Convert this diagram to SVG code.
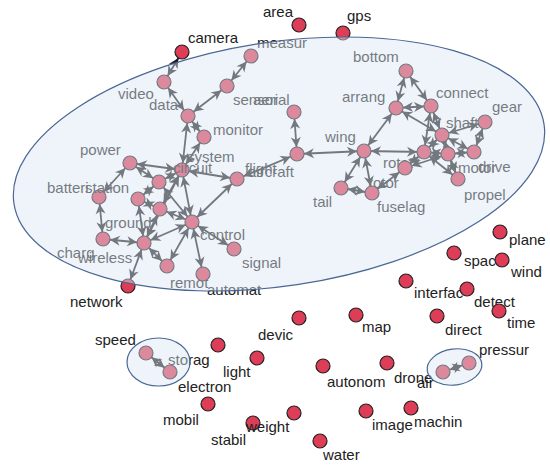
<svg xmlns="http://www.w3.org/2000/svg" width="550" height="469" viewBox="0 0 550 469">
<style>
.e{stroke:#1e1e1e;stroke-width:1.8;fill:none;marker-start:url(#ar);marker-end:url(#ar)}
.n{fill:#de3d57;stroke:#222;stroke-width:1.2}
.t{font-family:"Liberation Sans",Arial,sans-serif;font-size:15px;fill:#222}
.g{fill:#dce6f3;fill-opacity:0.45;stroke:#4a6794;stroke-width:1.2}
</style>
<defs>
<marker id="ar" viewBox="-20 -10 20 20" refX="0" refY="0" markerWidth="20" markerHeight="20" markerUnits="userSpaceOnUse" orient="auto-start-reverse" overflow="visible">
<path d="M-7,0 L-17,-5 L-14,0 L-17,5 Z" fill="#1e1e1e"/>
</marker>
</defs>
<rect width="550" height="469" fill="#fff"/>
<g id="edges">
<line class="e" x1="182" y1="52" x2="164" y2="82"/>
<line class="e" x1="164" y1="82" x2="188" y2="116"/>
<line class="e" x1="188" y1="116" x2="227" y2="86"/>
<line class="e" x1="227" y1="86" x2="251" y2="56"/>
<line class="e" x1="188" y1="116" x2="204" y2="137"/>
<line class="e" x1="188" y1="116" x2="182" y2="170"/>
<line class="e" x1="204" y1="137" x2="182" y2="170"/>
<line class="e" x1="182" y1="170" x2="237" y2="179"/>
<line class="e" x1="237" y1="179" x2="297" y2="154"/>
<line class="e" x1="294" y1="112" x2="297" y2="154"/>
<line class="e" x1="297" y1="154" x2="364" y2="151"/>
<line class="e" x1="130" y1="163" x2="182" y2="170"/>
<line class="e" x1="130" y1="163" x2="159" y2="182"/>
<line class="e" x1="99" y1="197" x2="130" y2="163"/>
<line class="e" x1="99" y1="197" x2="103" y2="239"/>
<line class="e" x1="103" y1="239" x2="144" y2="243"/>
<line class="e" x1="159" y1="182" x2="138" y2="199"/>
<line class="e" x1="159" y1="182" x2="182" y2="170"/>
<line class="e" x1="138" y1="199" x2="144" y2="243"/>
<line class="e" x1="138" y1="199" x2="160" y2="209"/>
<line class="e" x1="160" y1="209" x2="182" y2="170"/>
<line class="e" x1="160" y1="209" x2="192" y2="222"/>
<line class="e" x1="144" y1="243" x2="192" y2="222"/>
<line class="e" x1="144" y1="243" x2="160" y2="209"/>
<line class="e" x1="144" y1="243" x2="182" y2="170"/>
<line class="e" x1="182" y1="170" x2="192" y2="222"/>
<line class="e" x1="159" y1="182" x2="192" y2="222"/>
<line class="e" x1="192" y1="222" x2="167" y2="266"/>
<line class="e" x1="192" y1="222" x2="203" y2="274"/>
<line class="e" x1="192" y1="222" x2="234" y2="249"/>
<line class="e" x1="192" y1="222" x2="237" y2="179"/>
<line class="e" x1="144" y1="243" x2="167" y2="266"/>
<line class="e" x1="144" y1="243" x2="128" y2="286"/>
<line class="e" x1="364" y1="151" x2="396" y2="108"/>
<line class="e" x1="364" y1="151" x2="341" y2="188"/>
<line class="e" x1="364" y1="151" x2="372" y2="193"/>
<line class="e" x1="341" y1="188" x2="372" y2="193"/>
<line class="e" x1="364" y1="151" x2="424" y2="152"/>
<line class="e" x1="372" y1="193" x2="405" y2="168"/>
<line class="e" x1="406" y1="71" x2="396" y2="108"/>
<line class="e" x1="406" y1="71" x2="431" y2="106"/>
<line class="e" x1="396" y1="108" x2="431" y2="106"/>
<line class="e" x1="396" y1="108" x2="442" y2="135"/>
<line class="e" x1="431" y1="106" x2="442" y2="135"/>
<line class="e" x1="431" y1="106" x2="424" y2="152"/>
<line class="e" x1="485" y1="122" x2="442" y2="135"/>
<line class="e" x1="485" y1="122" x2="474" y2="152"/>
<line class="e" x1="442" y1="135" x2="424" y2="152"/>
<line class="e" x1="442" y1="135" x2="448" y2="154"/>
<line class="e" x1="442" y1="135" x2="474" y2="152"/>
<line class="e" x1="442" y1="135" x2="458" y2="179"/>
<line class="e" x1="424" y1="152" x2="448" y2="154"/>
<line class="e" x1="424" y1="152" x2="405" y2="168"/>
<line class="e" x1="448" y1="154" x2="474" y2="152"/>
<line class="e" x1="448" y1="154" x2="458" y2="179"/>
<line class="e" x1="405" y1="168" x2="448" y2="154"/>
<line class="e" x1="424" y1="152" x2="458" y2="179"/>
<line class="e" x1="146" y1="353" x2="170" y2="372"/>
<line class="e" x1="469" y1="363" x2="443" y2="372"/>
</g>
<g id="node-camera"><circle class="n" cx="182" cy="52" r="7"/><text class="t" x="188" y="43">camera</text></g>
<g id="node-area"><circle class="n" cx="299" cy="25" r="7"/><text class="t" x="263" y="17">area</text></g>
<g id="node-gps"><circle class="n" cx="343" cy="33" r="7"/><text class="t" x="347" y="21">gps</text></g>
<g id="node-video"><circle class="n" cx="164" cy="82" r="7"/><text class="t" x="118" y="99">video</text></g>
<g id="node-data"><circle class="n" cx="188" cy="116" r="7"/><text class="t" x="149" y="110">data</text></g>
<g id="node-sensor"><circle class="n" cx="227" cy="86" r="7"/><text class="t" x="233" y="105">sensor</text></g>
<g id="node-measur"><circle class="n" cx="251" cy="56" r="7"/><text class="t" x="257" y="48">measur</text></g>
<g id="node-monitor"><circle class="n" cx="204" cy="137" r="7"/><text class="t" x="213" y="135">monitor</text></g>
<g id="node-aerial"><circle class="n" cx="294" cy="112" r="7"/><text class="t" x="253" y="105">aerial</text></g>
<g id="node-aircraft"><circle class="n" cx="297" cy="154" r="7"/><text class="t" x="248" y="177">aircraft</text></g>
<g id="node-flight"><circle class="n" cx="237" cy="179" r="7"/><text class="t" x="245" y="174">flight</text></g>
<g id="node-power"><circle class="n" cx="130" cy="163" r="7"/><text class="t" x="80" y="155">power</text></g>
<g id="node-system"><circle class="n" cx="159" cy="182" r="7"/><text class="t" x="187" y="162">system</text></g>
<g id="node-circuit"><circle class="n" cx="182" cy="170" r="7"/><text class="t" x="173" y="173">circuit</text></g>
<g id="node-batteri"><circle class="n" cx="99" cy="197" r="7"/><text class="t" x="47" y="193">batteri</text></g>
<g id="node-station"><circle class="n" cx="138" cy="199" r="7"/><text class="t" x="85" y="193">station</text></g>
<g id="node-ground"><circle class="n" cx="160" cy="209" r="7"/><text class="t" x="105" y="228">ground</text></g>
<g id="node-control"><circle class="n" cx="192" cy="222" r="7"/><text class="t" x="200" y="240">control</text></g>
<g id="node-charg"><circle class="n" cx="103" cy="239" r="7"/><text class="t" x="57" y="258">charg</text></g>
<g id="node-wireless"><circle class="n" cx="144" cy="243" r="7"/><text class="t" x="78" y="263">wireless</text></g>
<g id="node-remot"><circle class="n" cx="167" cy="266" r="7"/><text class="t" x="170" y="288">remot</text></g>
<g id="node-automat"><circle class="n" cx="203" cy="274" r="7"/><text class="t" x="207" y="295">automat</text></g>
<g id="node-signal"><circle class="n" cx="234" cy="249" r="7"/><text class="t" x="242" y="268">signal</text></g>
<g id="node-network"><circle class="n" cx="128" cy="286" r="7"/><text class="t" x="70" y="307">network</text></g>
<g id="node-bottom"><circle class="n" cx="406" cy="71" r="7"/><text class="t" x="353" y="62">bottom</text></g>
<g id="node-arrang"><circle class="n" cx="396" cy="108" r="7"/><text class="t" x="342" y="102">arrang</text></g>
<g id="node-connect"><circle class="n" cx="431" cy="106" r="7"/><text class="t" x="436" y="98">connect</text></g>
<g id="node-gear"><circle class="n" cx="485" cy="122" r="7"/><text class="t" x="492" y="112">gear</text></g>
<g id="node-shaft"><circle class="n" cx="442" cy="135" r="7"/><text class="t" x="446" y="128">shaft</text></g>
<g id="node-wing"><circle class="n" cx="364" cy="151" r="7"/><text class="t" x="325" y="142">wing</text></g>
<g id="node-rotor"><circle class="n" cx="424" cy="152" r="7"/><text class="t" x="368" y="188">rotor</text></g>
<g id="node-motor"><circle class="n" cx="448" cy="154" r="7"/><text class="t" x="458" y="173">motor</text></g>
<g id="node-drive"><circle class="n" cx="474" cy="152" r="7"/><text class="t" x="478" y="172">drive</text></g>
<g id="node-propel"><circle class="n" cx="458" cy="179" r="7"/><text class="t" x="464" y="200">propel</text></g>
<g id="node-rotat"><text class="t" x="383" y="168">rotat</text><circle class="n" cx="405" cy="168" r="7"/></g>
<g id="node-tail"><circle class="n" cx="341" cy="188" r="7"/><text class="t" x="313" y="207">tail</text></g>
<g id="node-fuselag"><circle class="n" cx="372" cy="193" r="7"/><text class="t" x="377" y="212">fuselag</text></g>
<g id="node-plane"><circle class="n" cx="500" cy="232" r="7"/><text class="t" x="509" y="245">plane</text></g>
<g id="node-space"><circle class="n" cx="454" cy="253" r="7"/><text class="t" x="464" y="266">space</text></g>
<g id="node-wind"><circle class="n" cx="502" cy="260" r="7"/><text class="t" x="511" y="277">wind</text></g>
<g id="node-interfac"><circle class="n" cx="406" cy="281" r="7"/><text class="t" x="414" y="298">interfac</text></g>
<g id="node-detect"><circle class="n" cx="467" cy="289" r="7"/><text class="t" x="474" y="307">detect</text></g>
<g id="node-time"><circle class="n" cx="499" cy="311" r="7"/><text class="t" x="507" y="328">time</text></g>
<g id="node-direct"><circle class="n" cx="437" cy="316" r="7"/><text class="t" x="445" y="335">direct</text></g>
<g id="node-map"><circle class="n" cx="356" cy="315" r="7"/><text class="t" x="362" y="332">map</text></g>
<g id="node-devic"><circle class="n" cx="299" cy="318" r="7"/><text class="t" x="258" y="340">devic</text></g>
<g id="node-pressur"><circle class="n" cx="469" cy="363" r="7"/><text class="t" x="479" y="355">pressur</text></g>
<g id="node-air"><circle class="n" cx="443" cy="372" r="7"/><text class="t" x="417" y="388">air</text></g>
<g id="node-drone"><circle class="n" cx="387" cy="363" r="7"/><text class="t" x="394" y="383">drone</text></g>
<g id="node-autonom"><circle class="n" cx="323" cy="366" r="7"/><text class="t" x="327" y="387">autonom</text></g>
<g id="node-speed"><circle class="n" cx="146" cy="353" r="7"/><text class="t" x="95" y="345">speed</text></g>
<g id="node-storag"><circle class="n" cx="170" cy="372" r="7"/><text class="t" x="168" y="365">storag</text></g>
<g id="node-electron"><circle class="n" cx="218" cy="345" r="7"/><text class="t" x="178" y="392">electron</text></g>
<g id="node-light"><circle class="n" cx="257" cy="358" r="7"/><text class="t" x="223" y="377">light</text></g>
<g id="node-mobil"><circle class="n" cx="208" cy="404" r="7"/><text class="t" x="163" y="425">mobil</text></g>
<g id="node-weight"><circle class="n" cx="253" cy="423" r="7"/><text class="t" x="246" y="432">weight</text></g>
<g id="node-stabil"><circle class="n" cx="294" cy="413" r="7"/><text class="t" x="211" y="445">stabil</text></g>
<g id="node-image"><circle class="n" cx="366" cy="411" r="7"/><text class="t" x="372" y="430">image</text></g>
<g id="node-machin"><circle class="n" cx="411" cy="408" r="7"/><text class="t" x="414" y="427">machin</text></g>
<g id="node-water"><circle class="n" cx="320" cy="441" r="7"/><text class="t" x="323" y="460">water</text></g>
<g id="groups">
<ellipse class="g" cx="279" cy="164" rx="268" ry="122" transform="rotate(-8.5 279 164)"/>
<ellipse class="g" cx="158.5" cy="362" rx="31.5" ry="24"/>
<ellipse class="g" cx="454.5" cy="367" rx="27.5" ry="18" transform="rotate(-8 454.5 367)"/>
</g>
</svg>
